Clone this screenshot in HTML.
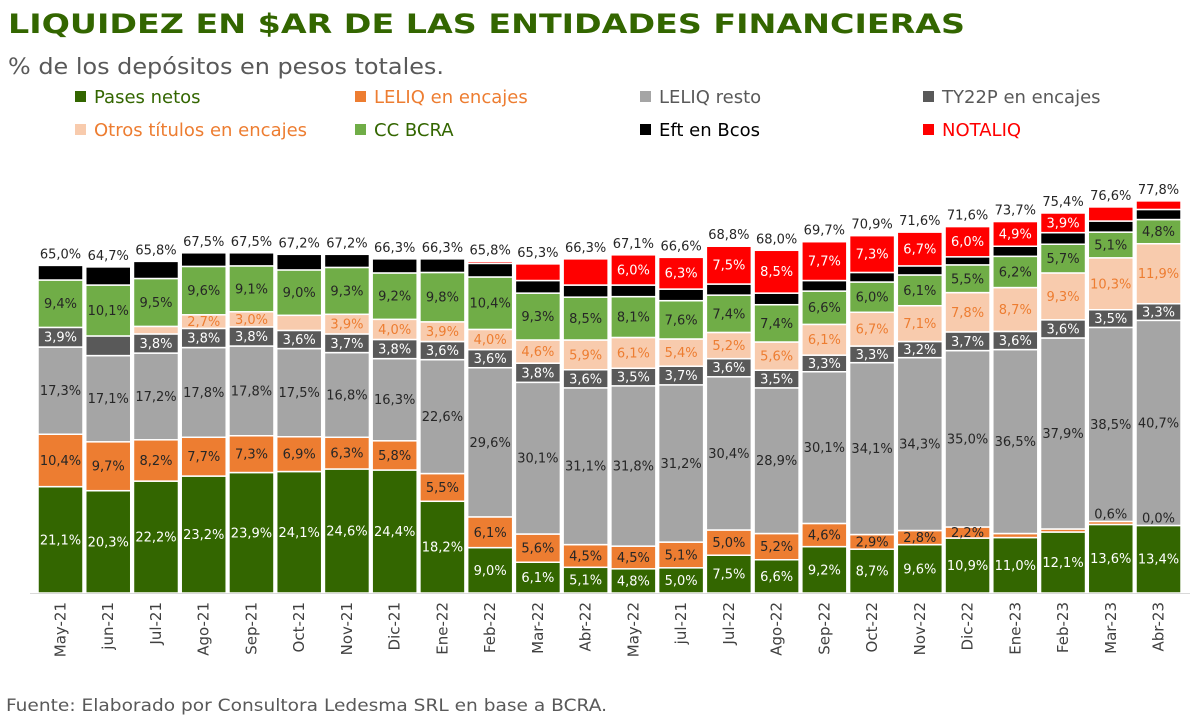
<!DOCTYPE html>
<html><head><meta charset="utf-8"><style>
html,body{margin:0;padding:0;background:#fff;}
svg{display:block;font-family:"DejaVu Sans","Liberation Sans",sans-serif;}
</style></head><body>
<svg id="chart" width="1200" height="720" viewBox="0 0 1200 720" xmlns="http://www.w3.org/2000/svg">
<text x="8" y="33" font-size="27" font-weight="bold" fill="#336600" textLength="957" lengthAdjust="spacingAndGlyphs">LIQUIDEZ EN $AR DE LAS ENTIDADES FINANCIERAS</text>
<text x="8" y="74" font-size="22" fill="#595959" textLength="436" lengthAdjust="spacingAndGlyphs">% de los depósitos en pesos totales.</text>
<g id="legend"></g>
<g id="bars"></g>
<g id="xlabels"></g>
<text x="6" y="711" font-size="17" fill="#595959" textLength="601" lengthAdjust="spacingAndGlyphs">Fuente: Elaborado por Consultora Ledesma SRL en base a BCRA.</text>
</svg>
<script>
const categories = ["May-21","jun-21","Jul-21","Ago-21","Sep-21","Oct-21","Nov-21","Dic-21","Ene-22","Feb-22","Mar-22","Abr-22","May-22","jul-21","Jul-22","Ago-22","Sep-22","Oct-22","Nov-22","Dic-22","Ene-23","Feb-23","Mar-23","Abr-23"];
const pasesNetos = [21.1,20.3,22.2,23.2,23.9,24.1,24.6,24.4,18.2,9.0,6.1,5.1,4.8,5.0,7.5,6.6,9.2,8.7,9.6,10.9,11.0,12.1,13.6,13.4];
const leliqEncajes = [10.4,9.7,8.2,7.7,7.3,6.9,6.3,5.8,5.5,6.1,5.6,4.5,4.5,5.1,5.0,5.2,4.6,2.9,2.8,2.2,0.8,0.6,0.6,0.0];
const leliqResto = [17.3,17.1,17.2,17.8,17.8,17.5,16.8,16.3,22.6,29.6,30.1,31.1,31.8,31.2,30.4,28.9,30.1,34.1,34.3,35.0,36.5,37.9,38.5,40.7];
const ty22p = [3.9,3.9,3.8,3.8,3.8,3.6,3.7,3.8,3.6,3.6,3.8,3.6,3.5,3.7,3.6,3.5,3.3,3.3,3.2,3.7,3.6,3.6,3.5,3.3];
const otrosTitulos = [0,0,1.5,2.7,3.0,3.0,3.9,4.0,3.9,4.0,4.6,5.9,6.1,5.4,5.2,5.6,6.1,6.7,7.1,7.8,8.7,9.3,10.3,11.9];
const ccBcra = [9.4,10.1,9.5,9.6,9.1,9.0,9.3,9.2,9.8,10.4,9.3,8.5,8.1,7.6,7.4,7.4,6.6,6.0,6.1,5.5,6.2,5.7,5.1,4.8];
const eftBcos = [2.9,3.6,3.4,2.7,2.6,3.1,2.6,2.8,2.7,2.7,2.5,2.4,2.3,2.3,2.2,2.3,2.1,1.9,1.8,1.6,2.0,2.3,2.2,2.0];
const notaliq = [0,0,0,0,0,0,0,0,0,0.4,3.3,5.2,6.0,6.3,7.5,8.5,7.7,7.3,6.7,6.0,4.9,3.9,2.8,1.7];
const totals = [65.0,64.7,65.8,67.5,67.5,67.2,67.2,66.3,66.3,65.8,65.3,66.3,67.1,66.6,68.8,68.0,69.7,70.9,71.6,71.6,73.7,75.4,76.6,77.8];
const hiddenLabels = {1:[20,21],3:[1],4:[0,1,2,5],6:[0,1,2,3,4,5,6,7,8,9,10,11,12,13,14,15,16,17,18,19,20,21,22,23],7:[0,1,2,3,4,5,6,7,8,9,10,11,22,23]};

const series = [
 {name:"Pases netos",data:pasesNetos,color:"#336600",text:"#fff",key:"pases-netos"},
 {name:"LELIQ en encajes",data:leliqEncajes,color:"#ED7D31",text:"#262626",key:"leliq-encajes"},
 {name:"LELIQ resto",data:leliqResto,color:"#A5A5A5",text:"#262626",key:"leliq-resto"},
 {name:"TY22P en encajes",data:ty22p,color:"#595959",text:"#fff",key:"ty22p-encajes"},
 {name:"Otros títulos en encajes",data:otrosTitulos,color:"#F8CBAD",text:"#ED7D31",key:"otros-titulos"},
 {name:"CC BCRA",data:ccBcra,color:"#70AD47",text:"#262626",key:"cc-bcra"},
 {name:"Eft en Bcos",data:eftBcos,color:"#000000",text:"#fff",key:"eft-bcos"},
 {name:"NOTALIQ",data:notaliq,color:"#FF0000",text:"#fff",key:"notaliq"}
];
const NS="http://www.w3.org/2000/svg";
const baseY=593, pxPer=5.04, x0=38, pitch=47.74, bw=45;
const yScale=v=>baseY-v*pxPer;
const xScale=i=>x0+i*pitch;
const fmt=v=>v.toFixed(1).replace(".",",")+"%";
function mk(tag,attrs,parent){const e=document.createElementNS(NS,tag);for(const k in attrs)e.setAttribute(k,attrs[k]);parent.appendChild(e);return e;}

const lg=document.getElementById("legend");
const legPos=[[80,97],[360,97],[645,97],[928,97],[80,130],[360,130],[645,130],[928,130]];
const legText=["#336600","#ED7D31","#595959","#595959","#ED7D31","#336600","#000","#FF0000"];
series.forEach((s,k)=>{
 const g=mk("g",{},lg);
 
 
 mk("rect",{x:legPos[k][0]-5,y:legPos[k][1]-6,width:11,height:11,fill:s.color},g);
 const t=mk("text",{x:legPos[k][0]+14,y:legPos[k][1]+6,"font-size":18,fill:legText[k]},g);
 t.textContent=s.name;
});

const bars=document.getElementById("bars");
const labelsLayer=[];
categories.forEach((c,i)=>{
 let cum=0;
 const x=xScale(i);
 series.forEach((s,k)=>{
  const v=s.data[i];
  const y1=yScale(cum), y2=yScale(cum+v);
  if(v>0){
   const r=mk("rect",{x:x,y:y2,width:bw,height:y1-y2,fill:s.color,stroke:"#fff","stroke-width":1.5},bars);
   
   
  }
  const hid=(hiddenLabels[k]||[]).includes(i);
  if(!hid){
   let ly=(y1+y2)/2+4.5, col=s.text;
   if(v<1.2){ly=y2-3;col="#262626";}
   labelsLayer.push({x:x+bw/2,y:ly,t:fmt(v),col:col,key:s.key,c:c});
  }
  cum+=v;
 });
 labelsLayer.push({x:x+bw/2,y:yScale(cum)-7,t:fmt(totals[i]),col:"#262626",key:"total",c:c});
});
labelsLayer.forEach(L=>{
 const t=mk("text",{x:L.x,y:L.y,"font-size":13,"text-anchor":"middle",fill:L.col},bars);
 
 
 t.textContent=L.t;
});
mk("line",{x1:30,y1:baseY+0.5,x2:1190,y2:baseY+0.5,stroke:"#d9d9d9","stroke-width":1},bars);

const xl=document.getElementById("xlabels");
categories.forEach((c,i)=>{
 const cx=xScale(i)+bw/2+5;
 const t=mk("text",{x:0,y:0,"font-size":15,"text-anchor":"end",fill:"#404040",transform:`translate(${cx},602) rotate(-90)`},xl);
 
 
 t.textContent=c;
});
</script>
</body></html>
